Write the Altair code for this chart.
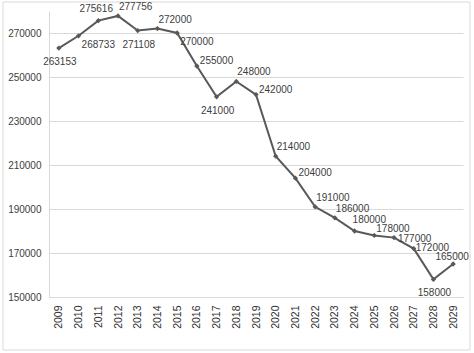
import altair as alt
import pandas as pd

years = [str(y) for y in range(2009, 2030)]
values = [263153, 268733, 275616, 277756, 271108, 272000, 270000, 255000, 241000,
          248000, 242000, 214000, 204000, 191000, 186000, 180000, 178000, 177000,
          172000, 158000, 165000]
placement = ["below", "rightbelow", "above", "aboveright", "below", "aboveright",
             "rightbelow", "right", "below", "aboveright", "right", "aboveright",
             "right", "aboveright", "aboveright", "abovehigh", "rightup", "rightlow",
             "rightmid", "below", "abovelow"]
y_ticks = [150000, 170000, 190000, 210000, 230000, 250000, 270000]

df = pd.DataFrame({"year": years, "value": values, "place": placement,
                   "label": [str(v) for v in values]})

FONT = "Liberation Sans"
LINE = "#595959"
TXT = "#404040"

x = alt.X("year:N", sort=years, title=None,
          scale=alt.Scale(paddingInner=0, paddingOuter=0.5),
          axis=alt.Axis(labelAngle=-90, labelFont=FONT, labelFontSize=10.5,
                        labelColor="#303030", ticks=False, domainColor="#d9d9d9",
                        labelPadding=8, grid=False, labelBaseline="middle"))
y = alt.Y("value:Q", title=None,
          scale=alt.Scale(domain=[150000, 280000], nice=False, zero=False),
          axis=alt.Axis(values=y_ticks, format="d", labelFont=FONT,
                        labelFontSize=10, labelColor=TXT, ticks=False,
                        domain=True, domainColor="#d9d9d9", gridColor="#d9d9d9",
                        labelPadding=8))

base = alt.Chart(df)
line = base.mark_line(color=LINE, strokeWidth=2).encode(x=x, y=y)
pts = base.mark_point(shape="diamond", filled=True, color=LINE, size=28,
                      opacity=1).encode(x=x, y=y)

def lab(place, align, dx, dy):
    return base.transform_filter(alt.datum.place == place).mark_text(
        font=FONT, fontSize=10, color=TXT, align=align, baseline="middle",
        dx=dx, dy=dy).encode(x=x, y=y, text="label:N")

labels = [
    lab("below", "center", 1, 14),
    lab("above", "center", -2, -12),
    lab("abovelow", "center", -1, -7),
    lab("aboveright", "left", 1, -9),
    lab("abovehigh", "left", -2, -11),
    lab("rightbelow", "left", 3, 9),
    lab("right", "left", 3, -5),
    lab("rightup", "left", 2, -6),
    lab("rightlow", "left", 4, 1),
    lab("rightmid", "left", 2, -1),
]

frame = alt.Chart(pd.DataFrame({"a": [0]})).mark_rect(
    fill=None, stroke="#d9d9d9", strokeWidth=1).encode(
    x=alt.value(-46), x2=alt.value(421), y=alt.value(-9), y2=alt.value(339))

chart = alt.layer(frame, line, pts, *labels).properties(
    width=414, height=286,
    padding={"left": 49, "top": 11, "right": 11, "bottom": 56},
    autosize=alt.AutoSizeParams(type="none"),
    background="white",
).configure_view(stroke=None)

chart.save("out.html", embed_options={"renderer": "svg", "actions": False})
